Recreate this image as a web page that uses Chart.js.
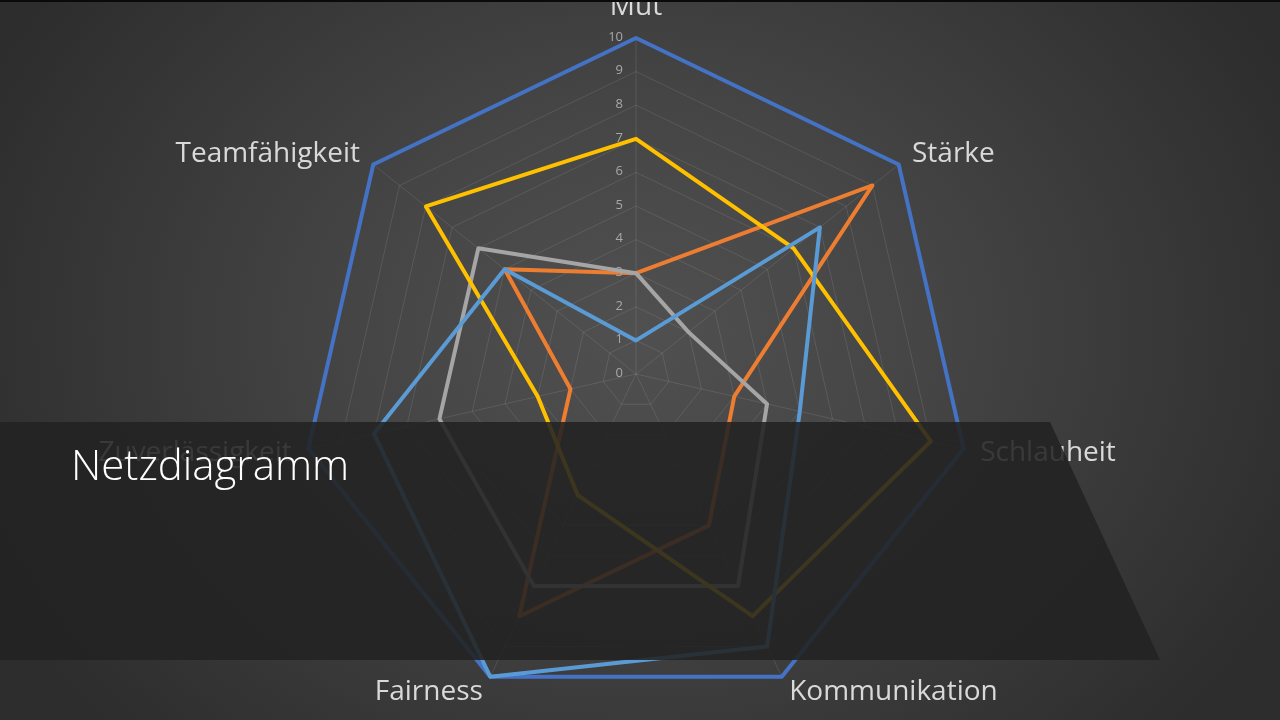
<!DOCTYPE html>
<html>
<head>
<meta charset="utf-8">
<script src="https://cdn.jsdelivr.net/npm/chart.js@4.4.1/dist/chart.umd.min.js"></script>
<style>
  html, body { margin: 0; padding: 0; }
  body {
    width: 1280px; height: 720px; overflow: hidden; position: relative;
    background: radial-gradient(ellipse 720px 580px at 640px 330px, #505050 0%, #454545 40%, #2d2d2d 100%);
  }
  #topline { position: absolute; left: 0; top: 0; width: 1280px; height: 2px; background: #0a0a0a; }
  #wrap { position: absolute; left: 0; top: 0; width: 1280px; height: 720px; }
  #banner {
    position: absolute; left: 0; top: 422px; width: 1160px; height: 238px;
    background: rgba(34, 34, 34, 0.88);
    clip-path: polygon(0 0, 1050px 0, 1160px 238px, 0 238px);
  }
  #title {
    position: absolute; left: 71px; top: 443px;
    font-family: "Open Sans", sans-serif; font-weight: 300; font-size: 42px;
    color: #ffffff; line-height: 1;
  }
</style>
</head>
<body>
<div id="wrap"><canvas id="radar" width="1280" height="720"></canvas></div>
<div id="topline"></div>
<div id="banner"></div>
<div id="title">Netzdiagramm</div>
<script>
// Kategorien (Achsen)
const categories = ['Mut', 'Stärke', 'Schlauheit', 'Kommunikation', 'Fairness', 'Zuverlässigkeit', 'Teamfähigkeit'];

// Werte der Datenreihen
const series1 = [10, 10, 10, 10, 10, 10, 10];
const series2 = [3, 9, 3, 5, 8, 2, 5];
const series3 = [3, 2, 4, 7, 7, 6, 6];
const series4 = [7, 6, 9, 8, 4, 3, 8];
const series5 = [1, 7, 5, 9, 10, 8, 5];

// Achsenbeschriftung
const tickValues = [0, 1, 2, 3, 4, 5, 6, 7, 8, 9, 10];

// eigene Beschriftung für Achsen und Skala (Excel-Stil)
const labelPlugin = {
    id: 'labelPlugin',
    afterDraw(chart) {
        const scale = chart.scales.r;
        const ctx = chart.ctx;
        ctx.save();

        // Skalenwerte links neben der senkrechten Achse
        ctx.font = '13px "Open Sans", sans-serif';
        ctx.fillStyle = '#a8a8a8';
        ctx.textAlign = 'right';
        ctx.textBaseline = 'middle';
        tickValues.forEach(v => {
            const y = scale.yCenter - scale.getDistanceFromCenterForValue(v);
            ctx.fillText(String(v), scale.xCenter - 13, y - 1);
        });

        // Kategorienamen außen
        ctx.font = '28px "Open Sans", sans-serif';
        ctx.fillStyle = '#d9d9d9';
        categories.forEach((name, i) => {
            const p = scale.getPointPosition(i, scale.drawingArea + 17);
            const dx = p.x - scale.xCenter;
            let y = p.y;
            if (Math.abs(dx) < 1) {
                ctx.textAlign = 'center';
                y -= 14;
            } else {
                ctx.textAlign = dx > 0 ? 'left' : 'right';
            }
            ctx.textBaseline = 'middle';
            ctx.fillText(name, p.x, y);
        });
        ctx.restore();
    }
};

const ctx = document.getElementById('radar').getContext('2d');
const radarChart = new Chart(ctx, {
    type: 'radar',
    data: {
        labels: categories,
        datasets: [
            { label: 'Reihe 1', data: series1, borderColor: '#4472C4', order: 5 },
            { label: 'Reihe 2', data: series2, borderColor: '#ED7D31', order: 4 },
            { label: 'Reihe 3', data: series3, borderColor: '#A5A5A5', order: 3 },
            { label: 'Reihe 4', data: series4, borderColor: '#FFC000', order: 2 },
            { label: 'Reihe 5', data: series5, borderColor: '#5B9BD5', order: 1 }
        ]
    },
    options: {
        responsive: false,
        animation: false,
        layout: { padding: { left: 300, right: 308, top: 38, bottom: 10 } },
        elements: {
            line: { borderWidth: 4, fill: false, tension: 0, borderJoinStyle: 'round' },
            point: { radius: 0, hoverRadius: 0 }
        },
        plugins: {
            legend: { display: false },
            tooltip: { enabled: false }
        },
        scales: {
            r: {
                min: 0,
                max: 10,
                ticks: { display: false, stepSize: 1 },
                pointLabels: { display: false },
                grid: { color: 'rgba(255,255,255,0.10)', lineWidth: 1 },
                angleLines: { color: 'rgba(255,255,255,0.10)', lineWidth: 1 }
            }
        }
    },
    plugins: [labelPlugin]
});
</script>
</body>
</html>
